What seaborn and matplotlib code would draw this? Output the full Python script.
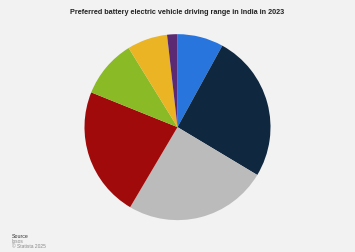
import matplotlib
matplotlib.use("Agg")
import matplotlib.pyplot as plt
import seaborn as sns

categories = ["Less than 100 km", "100-200 km", "200-300 km", "300-400 km",
              "400-500 km", "More than 500 km", "Other"]
shares = [8.0, 25.6, 24.9, 22.6, 10.1, 7.0, 1.8]
colors = ["#2876dd", "#0f2840", "#bbbbbb", "#a10a0a", "#8aba25", "#eab424", "#5c2a72"]

sns.set_theme(style="white")
plt.rcParams['font.family'] = ['Liberation Sans', 'DejaVu Sans']

bg = "#f2f2f2"
fig = plt.figure(figsize=(3.55, 2.53), dpi=100, facecolor=bg)
ax = fig.add_axes([0.238, 0.126, 0.524, 0.735])
ax.set_facecolor(bg)
palette = sns.color_palette(colors)
ax.pie(shares, colors=palette, startangle=90, counterclock=False,
       wedgeprops=dict(linewidth=0))
ax.set_aspect('auto')
ax.set_xlim(-1, 1)
ax.set_ylim(-1, 1)
ax.axis('off')

fig.text(0.5, 1 - 13 / 253, "Preferred battery electric vehicle driving range in India in 2023",
         ha='center', va='center', fontsize=5.25, fontweight='bold', color='#222222')
fig.text(12 / 355, 1 - 236 / 253, "Source", ha='left', va='center', fontsize=3.8, color='#333333')
fig.text(12 / 355, 1 - 241.5 / 253, "Ipsos", ha='left', va='center', fontsize=3.5, color='#888888')
fig.text(12 / 355, 1 - 247 / 253, "© Statista 2025", ha='left', va='center', fontsize=3.5, color='#888888')

fig.savefig("out.png", dpi=100, facecolor=bg)
